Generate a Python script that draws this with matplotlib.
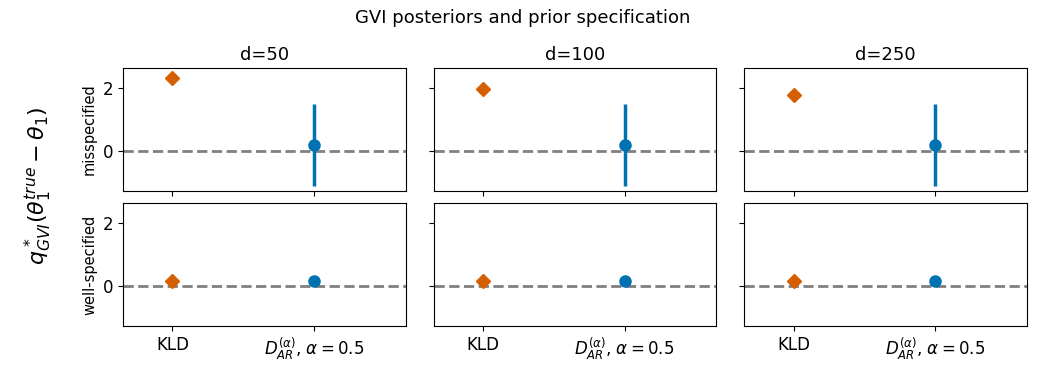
import matplotlib.pyplot as plt
import numpy as np

dims = ['d=50', 'd=100', 'd=250']
rows = ['misspecified', 'well-specified']
methods = ['KLD', r'$D_{AR}^{(\alpha)}$, $\alpha=0.5$']

# KLD point estimates [row][col]
kld_vals = [[2.32, 1.96, 1.79],
            [0.16, 0.16, 0.16]]
# D_AR point estimates
dar_vals = [[0.19, 0.19, 0.19],
            [0.16, 0.16, 0.16]]
# D_AR interval (lower, upper)
dar_lo = [[-1.11, -1.11, -1.11],
          [0.16, 0.16, 0.16]]
dar_hi = [[1.49, 1.49, 1.49],
          [0.16, 0.16, 0.16]]

orange = '#D55E00'
blue = '#0072B2'

fig, axes = plt.subplots(2, 3, figsize=(10.46, 3.72), dpi=100, sharey=True, sharex=True)
fig.subplots_adjust(left=0.1176, right=0.982, top=0.817, bottom=0.124, wspace=0.099, hspace=0.098)

for i in range(2):
    for j in range(3):
        ax = axes[i, j]
        ax.axhline(0, color='gray', linestyle='--', linewidth=2, zorder=1)
        ax.plot([0], [kld_vals[i][j]], 'D', color=orange, markersize=7.5, zorder=3)
        err = [[dar_vals[i][j] - dar_lo[i][j]], [dar_hi[i][j] - dar_vals[i][j]]]
        ax.errorbar([1], [dar_vals[i][j]], yerr=err, fmt='o', color=blue,
                    markersize=8, elinewidth=2.5, capsize=0, zorder=3)
        ax.set_xlim(-0.35, 1.65)
        ax.set_ylim(-1.27, 2.63)
        ax.set_xticks([0, 1])
        ax.set_xticklabels(methods, fontsize=12)
        ax.set_yticks([0, 2])
        ax.tick_params(labelsize=12)
        if i == 0:
            ax.set_title(dims[j], fontsize=13)
        if j == 0:
            ax.set_ylabel(rows[i], fontsize=10.5)

fig.suptitle('GVI posteriors and prior specification', fontsize=13, y=0.975)
fig.text(0.037, 0.5, r'$q^*_{GVI}(\theta_1^{true} - \theta_1)$', rotation=90,
         fontsize=16, va='center', ha='center')

plt.savefig('out.png')
